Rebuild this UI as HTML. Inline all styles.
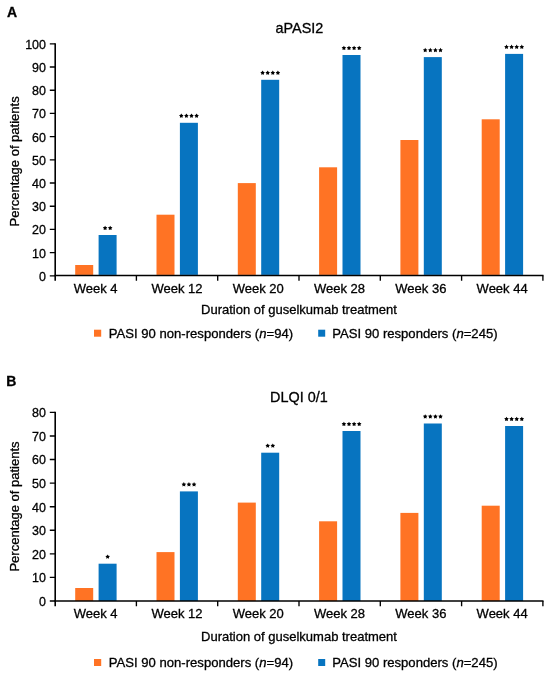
<!DOCTYPE html>
<html><head><meta charset="utf-8"><style>
html,body{margin:0;padding:0;background:#fff;}
svg{display:block;font-family:"Liberation Sans", sans-serif;will-change:transform;}
text{fill:#000;stroke:#000;stroke-width:0.3px;}
</style></head><body>
<svg width="550" height="674" viewBox="0 0 550 674">
<rect width="550" height="674" fill="#fff"/>
<text x="7" y="17.1" font-weight="bold" font-size="14">A</text>
<text x="299.4" y="33.2" text-anchor="middle" font-size="14.4">aPASI2</text>
<rect x="75.20" y="265.00" width="18" height="9.90" fill="#FF7324"/>
<rect x="98.60" y="235.00" width="18" height="39.90" fill="#0774C0"/>
<polygon points="105.10,225.70 105.86,227.05 107.38,227.36 106.34,228.50 106.51,230.04 105.10,229.40 103.69,230.04 103.86,228.50 102.82,227.36 104.34,227.05" fill="#000"/>
<polygon points="110.20,225.70 110.96,227.05 112.48,227.36 111.44,228.50 111.61,230.04 110.20,229.40 108.79,230.04 108.96,228.50 107.92,227.36 109.44,227.05" fill="#000"/>
<text x="95.65" y="292.8" text-anchor="middle" font-size="13">Week 4</text>
<rect x="156.50" y="214.70" width="18" height="60.20" fill="#FF7324"/>
<rect x="179.90" y="122.80" width="18" height="152.10" fill="#0774C0"/>
<polygon points="181.30,113.50 182.06,114.85 183.58,115.16 182.54,116.30 182.71,117.84 181.30,117.20 179.89,117.84 180.06,116.30 179.02,115.16 180.54,114.85" fill="#000"/>
<polygon points="186.40,113.50 187.16,114.85 188.68,115.16 187.64,116.30 187.81,117.84 186.40,117.20 184.99,117.84 185.16,116.30 184.12,115.16 185.64,114.85" fill="#000"/>
<polygon points="191.50,113.50 192.26,114.85 193.78,115.16 192.74,116.30 192.91,117.84 191.50,117.20 190.09,117.84 190.26,116.30 189.22,115.16 190.74,114.85" fill="#000"/>
<polygon points="196.60,113.50 197.36,114.85 198.88,115.16 197.84,116.30 198.01,117.84 196.60,117.20 195.19,117.84 195.36,116.30 194.32,115.16 195.84,114.85" fill="#000"/>
<text x="176.95" y="292.8" text-anchor="middle" font-size="13">Week 12</text>
<rect x="237.80" y="183.10" width="18" height="91.80" fill="#FF7324"/>
<rect x="261.20" y="79.80" width="18" height="195.10" fill="#0774C0"/>
<polygon points="262.60,70.50 263.36,71.85 264.88,72.16 263.84,73.30 264.01,74.84 262.60,74.20 261.19,74.84 261.36,73.30 260.32,72.16 261.84,71.85" fill="#000"/>
<polygon points="267.70,70.50 268.46,71.85 269.98,72.16 268.94,73.30 269.11,74.84 267.70,74.20 266.29,74.84 266.46,73.30 265.42,72.16 266.94,71.85" fill="#000"/>
<polygon points="272.80,70.50 273.56,71.85 275.08,72.16 274.04,73.30 274.21,74.84 272.80,74.20 271.39,74.84 271.56,73.30 270.52,72.16 272.04,71.85" fill="#000"/>
<polygon points="277.90,70.50 278.66,71.85 280.18,72.16 279.14,73.30 279.31,74.84 277.90,74.20 276.49,74.84 276.66,73.30 275.62,72.16 277.14,71.85" fill="#000"/>
<text x="258.25" y="292.8" text-anchor="middle" font-size="13">Week 20</text>
<rect x="319.10" y="167.30" width="18" height="107.60" fill="#FF7324"/>
<rect x="342.50" y="55.00" width="18" height="219.90" fill="#0774C0"/>
<polygon points="343.90,45.70 344.66,47.05 346.18,47.36 345.14,48.50 345.31,50.04 343.90,49.40 342.49,50.04 342.66,48.50 341.62,47.36 343.14,47.05" fill="#000"/>
<polygon points="349.00,45.70 349.76,47.05 351.28,47.36 350.24,48.50 350.41,50.04 349.00,49.40 347.59,50.04 347.76,48.50 346.72,47.36 348.24,47.05" fill="#000"/>
<polygon points="354.10,45.70 354.86,47.05 356.38,47.36 355.34,48.50 355.51,50.04 354.10,49.40 352.69,50.04 352.86,48.50 351.82,47.36 353.34,47.05" fill="#000"/>
<polygon points="359.20,45.70 359.96,47.05 361.48,47.36 360.44,48.50 360.61,50.04 359.20,49.40 357.79,50.04 357.96,48.50 356.92,47.36 358.44,47.05" fill="#000"/>
<text x="339.55" y="292.8" text-anchor="middle" font-size="13">Week 28</text>
<rect x="400.40" y="140.00" width="18" height="134.90" fill="#FF7324"/>
<rect x="423.80" y="57.10" width="18" height="217.80" fill="#0774C0"/>
<polygon points="425.20,47.80 425.96,49.15 427.48,49.46 426.44,50.60 426.61,52.14 425.20,51.50 423.79,52.14 423.96,50.60 422.92,49.46 424.44,49.15" fill="#000"/>
<polygon points="430.30,47.80 431.06,49.15 432.58,49.46 431.54,50.60 431.71,52.14 430.30,51.50 428.89,52.14 429.06,50.60 428.02,49.46 429.54,49.15" fill="#000"/>
<polygon points="435.40,47.80 436.16,49.15 437.68,49.46 436.64,50.60 436.81,52.14 435.40,51.50 433.99,52.14 434.16,50.60 433.12,49.46 434.64,49.15" fill="#000"/>
<polygon points="440.50,47.80 441.26,49.15 442.78,49.46 441.74,50.60 441.91,52.14 440.50,51.50 439.09,52.14 439.26,50.60 438.22,49.46 439.74,49.15" fill="#000"/>
<text x="420.85" y="292.8" text-anchor="middle" font-size="13">Week 36</text>
<rect x="481.70" y="119.30" width="18" height="155.60" fill="#FF7324"/>
<rect x="505.10" y="53.90" width="18" height="221.00" fill="#0774C0"/>
<polygon points="506.50,44.60 507.26,45.95 508.78,46.26 507.74,47.40 507.91,48.94 506.50,48.30 505.09,48.94 505.26,47.40 504.22,46.26 505.74,45.95" fill="#000"/>
<polygon points="511.60,44.60 512.36,45.95 513.88,46.26 512.84,47.40 513.01,48.94 511.60,48.30 510.19,48.94 510.36,47.40 509.32,46.26 510.84,45.95" fill="#000"/>
<polygon points="516.70,44.60 517.46,45.95 518.98,46.26 517.94,47.40 518.11,48.94 516.70,48.30 515.29,48.94 515.46,47.40 514.42,46.26 515.94,45.95" fill="#000"/>
<polygon points="521.80,44.60 522.56,45.95 524.08,46.26 523.04,47.40 523.21,48.94 521.80,48.30 520.39,48.94 520.56,47.40 519.52,46.26 521.04,45.95" fill="#000"/>
<text x="502.15" y="292.8" text-anchor="middle" font-size="13">Week 44</text>
<path d="M55.2 43.20 V280.70" stroke="#000" stroke-width="1.6" fill="none"/>
<path d="M54.40 275.50 H543.50" stroke="#000" stroke-width="1.5" fill="none"/>
<text transform="translate(46 280.75) scale(0.96 1)" text-anchor="end" font-size="13">0</text>
<text transform="translate(46 257.55) scale(0.96 1)" text-anchor="end" font-size="13">10</text>
<text transform="translate(46 234.35) scale(0.96 1)" text-anchor="end" font-size="13">20</text>
<text transform="translate(46 211.15) scale(0.96 1)" text-anchor="end" font-size="13">30</text>
<text transform="translate(46 187.95) scale(0.96 1)" text-anchor="end" font-size="13">40</text>
<text transform="translate(46 164.75) scale(0.96 1)" text-anchor="end" font-size="13">50</text>
<text transform="translate(46 141.55) scale(0.96 1)" text-anchor="end" font-size="13">60</text>
<text transform="translate(46 118.35) scale(0.96 1)" text-anchor="end" font-size="13">70</text>
<text transform="translate(46 95.15) scale(0.96 1)" text-anchor="end" font-size="13">80</text>
<text transform="translate(46 71.95) scale(0.96 1)" text-anchor="end" font-size="13">90</text>
<text transform="translate(46 48.75) scale(0.96 1)" text-anchor="end" font-size="13">100</text>
<path d="M49.80 275.80 H55.0 M49.80 252.60 H55.0 M49.80 229.40 H55.0 M49.80 206.20 H55.0 M49.80 183.00 H55.0 M49.80 159.80 H55.0 M49.80 136.60 H55.0 M49.80 113.40 H55.0 M49.80 90.20 H55.0 M49.80 67.00 H55.0 M49.80 43.80 H55.0 M136.40 275.50 V280.70 M217.70 275.50 V280.70 M299.00 275.50 V280.70 M380.30 275.50 V280.70 M461.60 275.50 V280.70 M542.90 275.50 V280.70" stroke="#000" stroke-width="1.35" fill="none"/>
<text transform="translate(18.8 161.4) rotate(-90)" text-anchor="middle" font-size="13">Percentage of patients</text>
<text x="299.0" y="313.9" text-anchor="middle" font-size="13">Duration of guselkumab treatment</text>
<rect x="94" y="329.7" width="7.2" height="7" fill="#FF7324"/>
<text x="108.8" y="338.2" font-size="13.1">PASI 90 non-responders (<tspan font-style="italic">n</tspan>=94)</text>
<rect x="318.2" y="329.7" width="7" height="7" fill="#0774C0"/>
<text x="332.2" y="338.2" font-size="13.1">PASI 90 responders (<tspan font-style="italic">n</tspan>=245)</text>
<text x="6.2" y="385.6" font-weight="bold" font-size="14">B</text>
<text x="298.9" y="402.0" text-anchor="middle" font-size="14.4">DLQI 0/1</text>
<rect x="75.20" y="588.00" width="18" height="13.00" fill="#FF7324"/>
<rect x="98.60" y="563.70" width="18" height="37.30" fill="#0774C0"/>
<polygon points="107.65,554.40 108.41,555.75 109.93,556.06 108.89,557.20 109.06,558.74 107.65,558.10 106.24,558.74 106.41,557.20 105.37,556.06 106.89,555.75" fill="#000"/>
<text x="95.65" y="618.0" text-anchor="middle" font-size="13">Week 4</text>
<rect x="156.50" y="552.10" width="18" height="48.90" fill="#FF7324"/>
<rect x="179.90" y="491.40" width="18" height="109.60" fill="#0774C0"/>
<polygon points="183.85,482.10 184.61,483.45 186.13,483.76 185.09,484.90 185.26,486.44 183.85,485.80 182.44,486.44 182.61,484.90 181.57,483.76 183.09,483.45" fill="#000"/>
<polygon points="188.95,482.10 189.71,483.45 191.23,483.76 190.19,484.90 190.36,486.44 188.95,485.80 187.54,486.44 187.71,484.90 186.67,483.76 188.19,483.45" fill="#000"/>
<polygon points="194.05,482.10 194.81,483.45 196.33,483.76 195.29,484.90 195.46,486.44 194.05,485.80 192.64,486.44 192.81,484.90 191.77,483.76 193.29,483.45" fill="#000"/>
<text x="176.95" y="618.0" text-anchor="middle" font-size="13">Week 12</text>
<rect x="237.80" y="502.60" width="18" height="98.40" fill="#FF7324"/>
<rect x="261.20" y="452.70" width="18" height="148.30" fill="#0774C0"/>
<polygon points="267.70,443.40 268.46,444.75 269.98,445.06 268.94,446.20 269.11,447.74 267.70,447.10 266.29,447.74 266.46,446.20 265.42,445.06 266.94,444.75" fill="#000"/>
<polygon points="272.80,443.40 273.56,444.75 275.08,445.06 274.04,446.20 274.21,447.74 272.80,447.10 271.39,447.74 271.56,446.20 270.52,445.06 272.04,444.75" fill="#000"/>
<text x="258.25" y="618.0" text-anchor="middle" font-size="13">Week 20</text>
<rect x="319.10" y="521.30" width="18" height="79.70" fill="#FF7324"/>
<rect x="342.50" y="431.00" width="18" height="170.00" fill="#0774C0"/>
<polygon points="343.90,421.70 344.66,423.05 346.18,423.36 345.14,424.50 345.31,426.04 343.90,425.40 342.49,426.04 342.66,424.50 341.62,423.36 343.14,423.05" fill="#000"/>
<polygon points="349.00,421.70 349.76,423.05 351.28,423.36 350.24,424.50 350.41,426.04 349.00,425.40 347.59,426.04 347.76,424.50 346.72,423.36 348.24,423.05" fill="#000"/>
<polygon points="354.10,421.70 354.86,423.05 356.38,423.36 355.34,424.50 355.51,426.04 354.10,425.40 352.69,426.04 352.86,424.50 351.82,423.36 353.34,423.05" fill="#000"/>
<polygon points="359.20,421.70 359.96,423.05 361.48,423.36 360.44,424.50 360.61,426.04 359.20,425.40 357.79,426.04 357.96,424.50 356.92,423.36 358.44,423.05" fill="#000"/>
<text x="339.55" y="618.0" text-anchor="middle" font-size="13">Week 28</text>
<rect x="400.40" y="512.90" width="18" height="88.10" fill="#FF7324"/>
<rect x="423.80" y="423.50" width="18" height="177.50" fill="#0774C0"/>
<polygon points="425.20,414.20 425.96,415.55 427.48,415.86 426.44,417.00 426.61,418.54 425.20,417.90 423.79,418.54 423.96,417.00 422.92,415.86 424.44,415.55" fill="#000"/>
<polygon points="430.30,414.20 431.06,415.55 432.58,415.86 431.54,417.00 431.71,418.54 430.30,417.90 428.89,418.54 429.06,417.00 428.02,415.86 429.54,415.55" fill="#000"/>
<polygon points="435.40,414.20 436.16,415.55 437.68,415.86 436.64,417.00 436.81,418.54 435.40,417.90 433.99,418.54 434.16,417.00 433.12,415.86 434.64,415.55" fill="#000"/>
<polygon points="440.50,414.20 441.26,415.55 442.78,415.86 441.74,417.00 441.91,418.54 440.50,417.90 439.09,418.54 439.26,417.00 438.22,415.86 439.74,415.55" fill="#000"/>
<text x="420.85" y="618.0" text-anchor="middle" font-size="13">Week 36</text>
<rect x="481.70" y="505.70" width="18" height="95.30" fill="#FF7324"/>
<rect x="505.10" y="426.00" width="18" height="175.00" fill="#0774C0"/>
<polygon points="506.50,416.70 507.26,418.05 508.78,418.36 507.74,419.50 507.91,421.04 506.50,420.40 505.09,421.04 505.26,419.50 504.22,418.36 505.74,418.05" fill="#000"/>
<polygon points="511.60,416.70 512.36,418.05 513.88,418.36 512.84,419.50 513.01,421.04 511.60,420.40 510.19,421.04 510.36,419.50 509.32,418.36 510.84,418.05" fill="#000"/>
<polygon points="516.70,416.70 517.46,418.05 518.98,418.36 517.94,419.50 518.11,421.04 516.70,420.40 515.29,421.04 515.46,419.50 514.42,418.36 515.94,418.05" fill="#000"/>
<polygon points="521.80,416.70 522.56,418.05 524.08,418.36 523.04,419.50 523.21,421.04 521.80,420.40 520.39,421.04 520.56,419.50 519.52,418.36 521.04,418.05" fill="#000"/>
<text x="502.15" y="618.0" text-anchor="middle" font-size="13">Week 44</text>
<path d="M55.2 411.79 V606.20" stroke="#000" stroke-width="1.6" fill="none"/>
<path d="M54.40 601.00 H543.50" stroke="#000" stroke-width="1.5" fill="none"/>
<text transform="translate(46 605.95) scale(0.96 1)" text-anchor="end" font-size="13">0</text>
<text transform="translate(46 582.37) scale(0.96 1)" text-anchor="end" font-size="13">10</text>
<text transform="translate(46 558.80) scale(0.96 1)" text-anchor="end" font-size="13">20</text>
<text transform="translate(46 535.22) scale(0.96 1)" text-anchor="end" font-size="13">30</text>
<text transform="translate(46 511.65) scale(0.96 1)" text-anchor="end" font-size="13">40</text>
<text transform="translate(46 488.07) scale(0.96 1)" text-anchor="end" font-size="13">50</text>
<text transform="translate(46 464.49) scale(0.96 1)" text-anchor="end" font-size="13">60</text>
<text transform="translate(46 440.92) scale(0.96 1)" text-anchor="end" font-size="13">70</text>
<text transform="translate(46 417.34) scale(0.96 1)" text-anchor="end" font-size="13">80</text>
<path d="M49.80 601.00 H55.0 M49.80 577.42 H55.0 M49.80 553.85 H55.0 M49.80 530.27 H55.0 M49.80 506.70 H55.0 M49.80 483.12 H55.0 M49.80 459.54 H55.0 M49.80 435.97 H55.0 M49.80 412.39 H55.0 M136.40 601.00 V606.20 M217.70 601.00 V606.20 M299.00 601.00 V606.20 M380.30 601.00 V606.20 M461.60 601.00 V606.20 M542.90 601.00 V606.20" stroke="#000" stroke-width="1.35" fill="none"/>
<text transform="translate(18.8 506.5) rotate(-90)" text-anchor="middle" font-size="13">Percentage of patients</text>
<text x="299.0" y="640.8" text-anchor="middle" font-size="13">Duration of guselkumab treatment</text>
<rect x="94" y="659" width="7.2" height="7" fill="#FF7324"/>
<text x="108.8" y="667" font-size="13.1">PASI 90 non-responders (<tspan font-style="italic">n</tspan>=94)</text>
<rect x="318.2" y="659" width="7" height="7" fill="#0774C0"/>
<text x="332.2" y="667" font-size="13.1">PASI 90 responders (<tspan font-style="italic">n</tspan>=245)</text>
</svg>
</body></html>
